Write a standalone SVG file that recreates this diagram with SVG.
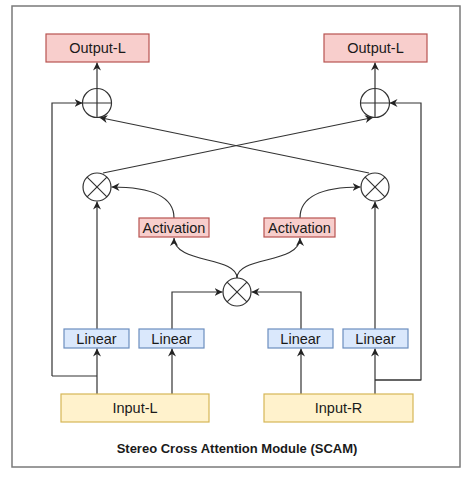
<svg xmlns="http://www.w3.org/2000/svg" width="474" height="477" viewBox="0 0 474 477">
<defs>
<marker id="arr" markerUnits="userSpaceOnUse" markerWidth="9" markerHeight="9" refX="8" refY="4" orient="auto">
<path d="M0,0 L8,4 L0,8 L2.5,4 z" fill="#222"/>
</marker>
<style>
.box{stroke-width:1.2}
.out{fill:#f8cecc;stroke:#b85450}
.lin{fill:#dae8fc;stroke:#6c8ebf}
.inp{fill:#fff2cc;stroke:#d6b656}
.lbl{font-family:"Liberation Sans",Arial,Helvetica,sans-serif;font-size:14.5px;fill:#1a1a1a;text-anchor:middle}
.op circle{fill:#fff;stroke:#333;stroke-width:1.2}
.op path{stroke:#333;stroke-width:1.2;fill:none}
.edge{fill:none;stroke:#333;stroke-width:1.2;marker-end:url(#arr)}
.line{fill:none;stroke:#333;stroke-width:1.2}
</style>
</defs>
<rect width="474" height="477" fill="#fff"/>
<rect x="12" y="6" width="448" height="461" fill="#fff" stroke="#7a7a7a" stroke-width="1.5"/>

<g id="edges">
<path class="edge" d="M97,88.5 L97,62.5"/>
<path class="edge" d="M375,88.5 L375,62.5"/>
<path class="edge" d="M97,394 L97,348.5"/>
<path class="edge" d="M52,376 L52,103 L82.5,103"/>
<path class="line" d="M97,376 L52,376"/>
<path class="edge" d="M172,394 L172,348.5"/>
<path class="edge" d="M97,329 L97,201.5"/>
<path class="edge" d="M172,329 L172,292 L222.5,292"/>
<path class="edge" d="M301,394 L301,348.5"/>
<path class="edge" d="M301,329 L301,292 L251.5,292"/>
<path class="edge" d="M375,394 L375,348.5"/>
<path class="edge" d="M375,329 L375,201.5"/>
<path class="edge" d="M375,380 L421,380 L421,103 L389.5,103"/>
<path class="line" d="M375,380 L421,380"/>
<path class="edge" d="M237,278 C237,256 174,264 174,238"/>
<path class="edge" d="M237,278 C237,256 300,264 300,238"/>
<path class="edge" d="M174,218 C174,196 150,187 111.5,187"/>
<path class="edge" d="M300,218 C300,196 324,187 360.5,187"/>
<path class="edge" d="M103,173 L373,117.5"/>
<path class="edge" d="M369,173 L99.5,117.5"/>
</g>

<g id="output-l-left">
<rect class="box out" x="46" y="34" width="103" height="28"/>
<text class="lbl" x="97.5" y="53">Output-L</text>
</g>
<g id="output-l-right">
<rect class="box out" x="324" y="34" width="103" height="28"/>
<text class="lbl" x="375.5" y="53">Output-L</text>
</g>

<g id="plus-left" class="op">
<circle cx="97" cy="103" r="14.5"/>
<path d="M82.5,103 H111.5 M97,88.5 V117.5"/>
</g>
<g id="plus-right" class="op">
<circle cx="375" cy="103" r="14.5"/>
<path d="M360.5,103 H389.5 M375,88.5 V117.5"/>
</g>

<g id="times-left" class="op">
<circle cx="97" cy="187" r="14"/>
<path d="M87.1,177.1 L106.9,196.9 M106.9,177.1 L87.1,196.9"/>
</g>
<g id="times-right" class="op">
<circle cx="375" cy="187" r="14"/>
<path d="M365.1,177.1 L384.9,196.9 M384.9,177.1 L365.1,196.9"/>
</g>
<g id="times-center" class="op">
<circle cx="237" cy="292" r="14"/>
<path d="M227.1,282.1 L246.9,301.9 M246.9,282.1 L227.1,301.9"/>
</g>

<g id="activation-left">
<rect class="box out" x="139" y="218" width="70" height="19"/>
<text class="lbl" x="174" y="232.5">Activation</text>
</g>
<g id="activation-right">
<rect class="box out" x="264" y="218" width="71" height="19"/>
<text class="lbl" x="299.5" y="232.5">Activation</text>
</g>

<g id="linear-l1">
<rect class="box lin" x="64" y="329" width="65" height="19"/>
<text class="lbl" x="96.5" y="343.5">Linear</text>
</g>
<g id="linear-l2">
<rect class="box lin" x="139" y="329" width="65" height="19"/>
<text class="lbl" x="171.5" y="343.5">Linear</text>
</g>
<g id="linear-r1">
<rect class="box lin" x="268" y="329" width="65" height="19"/>
<text class="lbl" x="300.5" y="343.5">Linear</text>
</g>
<g id="linear-r2">
<rect class="box lin" x="343" y="329" width="65" height="19"/>
<text class="lbl" x="375.5" y="343.5">Linear</text>
</g>

<g id="input-l">
<rect class="box inp" x="61" y="394" width="148" height="28"/>
<text class="lbl" x="135" y="413">Input-L</text>
</g>
<g id="input-r">
<rect class="box inp" x="264" y="394" width="149" height="28"/>
<text class="lbl" x="338.5" y="413">Input-R</text>
</g>

<g id="title">
<text x="237" y="453" font-family="'Liberation Sans',Arial,Helvetica,sans-serif" font-size="13" font-weight="bold" fill="#1a1a1a" text-anchor="middle">Stereo Cross Attention Module (SCAM)</text>
</g>
</svg>
